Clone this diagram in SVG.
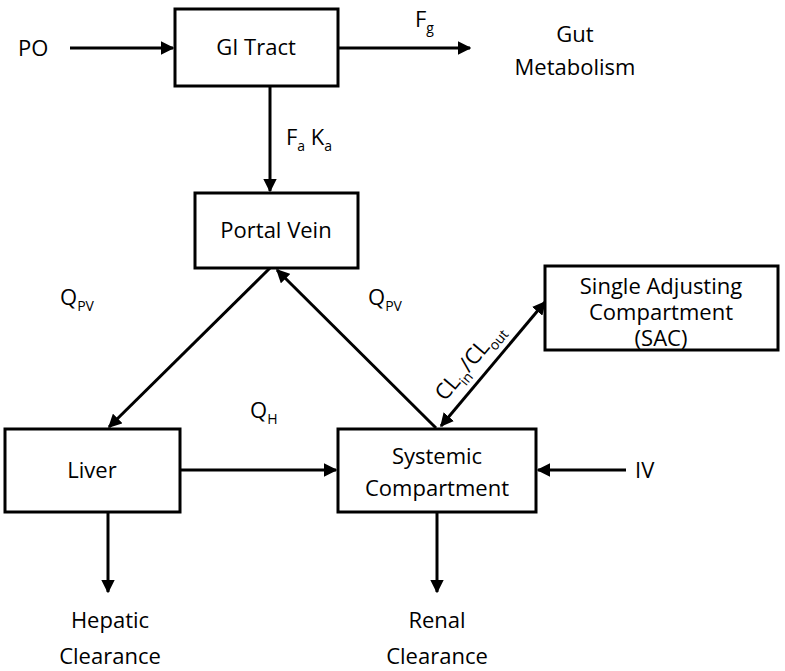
<svg xmlns="http://www.w3.org/2000/svg" width="785" height="671" viewBox="0 0 785 671">
<style>
.b{fill:#fff;stroke:#000;stroke-width:3}
.c line{stroke:#000;stroke-width:3}
text{font-family:"Open Sans","Liberation Sans",sans-serif;font-size:22px;fill:#000}
.m{text-anchor:middle}
.s{font-size:14px}
</style>
<defs>
<marker id="a" viewBox="0 0 10 10" refX="9" refY="5" markerWidth="4.5" markerHeight="4.5" orient="auto-start-reverse"><path d="M0,0L10,5L0,10z"/></marker>
</defs>
<g id="gi"><rect class="b" x="175" y="9" width="163" height="77"/><text class="m" x="256" y="55">GI Tract</text></g>
<g id="pv"><rect class="b" x="195" y="193" width="163" height="75"/><text class="m" x="276" y="238">Portal Vein</text></g>
<g id="sac"><rect class="b" x="545" y="266" width="233" height="84"/><text class="m" x="661" y="294">Single Adjusting</text><text class="m" x="661" y="320">Compartment</text><text class="m" x="661" y="346">(SAC)</text></g>
<g id="liver"><rect class="b" x="5" y="429" width="175" height="83"/><text class="m" x="92" y="478">Liver</text></g>
<g id="sys"><rect class="b" x="338" y="429" width="198" height="83"/><text class="m" x="437" y="464">Systemic</text><text class="m" x="437" y="496">Compartment</text></g>
<g class="c" marker-end="url(#a)">
<line x1="70" y1="48" x2="173" y2="48"/>
<line x1="338" y1="48" x2="470" y2="48"/>
<line x1="270" y1="86" x2="270" y2="191"/>
<line x1="270" y1="268" x2="109" y2="427"/>
<line x1="436" y1="428" x2="277" y2="270"/>
<line x1="441" y1="426" x2="545" y2="302" marker-start="url(#a)"/>
<line x1="180" y1="470" x2="336" y2="470"/>
<line x1="626" y1="470" x2="538" y2="470"/>
<line x1="108" y1="512" x2="108" y2="592"/>
<line x1="437" y1="512" x2="437" y2="592"/>
</g>
<g id="labels">
<text x="18" y="56">PO</text>
<text x="415" y="27">F<tspan class="s" dy="6">g</tspan></text>
<text class="m" x="575" y="42">Gut</text><text class="m" x="575" y="75">Metabolism</text>
<text x="286" y="145">F<tspan class="s" dy="6">a</tspan><tspan dy="-6"> K</tspan><tspan class="s" dy="6">a</tspan></text>
<text x="60" y="305">Q<tspan class="s" dy="6">PV</tspan></text>
<text x="368" y="305">Q<tspan class="s" dy="6">PV</tspan></text>
<text x="250" y="418">Q<tspan class="s" dy="6">H</tspan></text>
<text transform="translate(445,402) rotate(-50)">CL<tspan class="s" dy="6">in</tspan><tspan dy="-6">/CL</tspan><tspan class="s" dy="6">out</tspan></text>
<text x="635" y="478">IV</text>
<text class="m" x="110" y="628">Hepatic</text><text class="m" x="110" y="664">Clearance</text>
<text class="m" x="437" y="628">Renal</text><text class="m" x="437" y="664">Clearance</text>
</g>
</svg>
